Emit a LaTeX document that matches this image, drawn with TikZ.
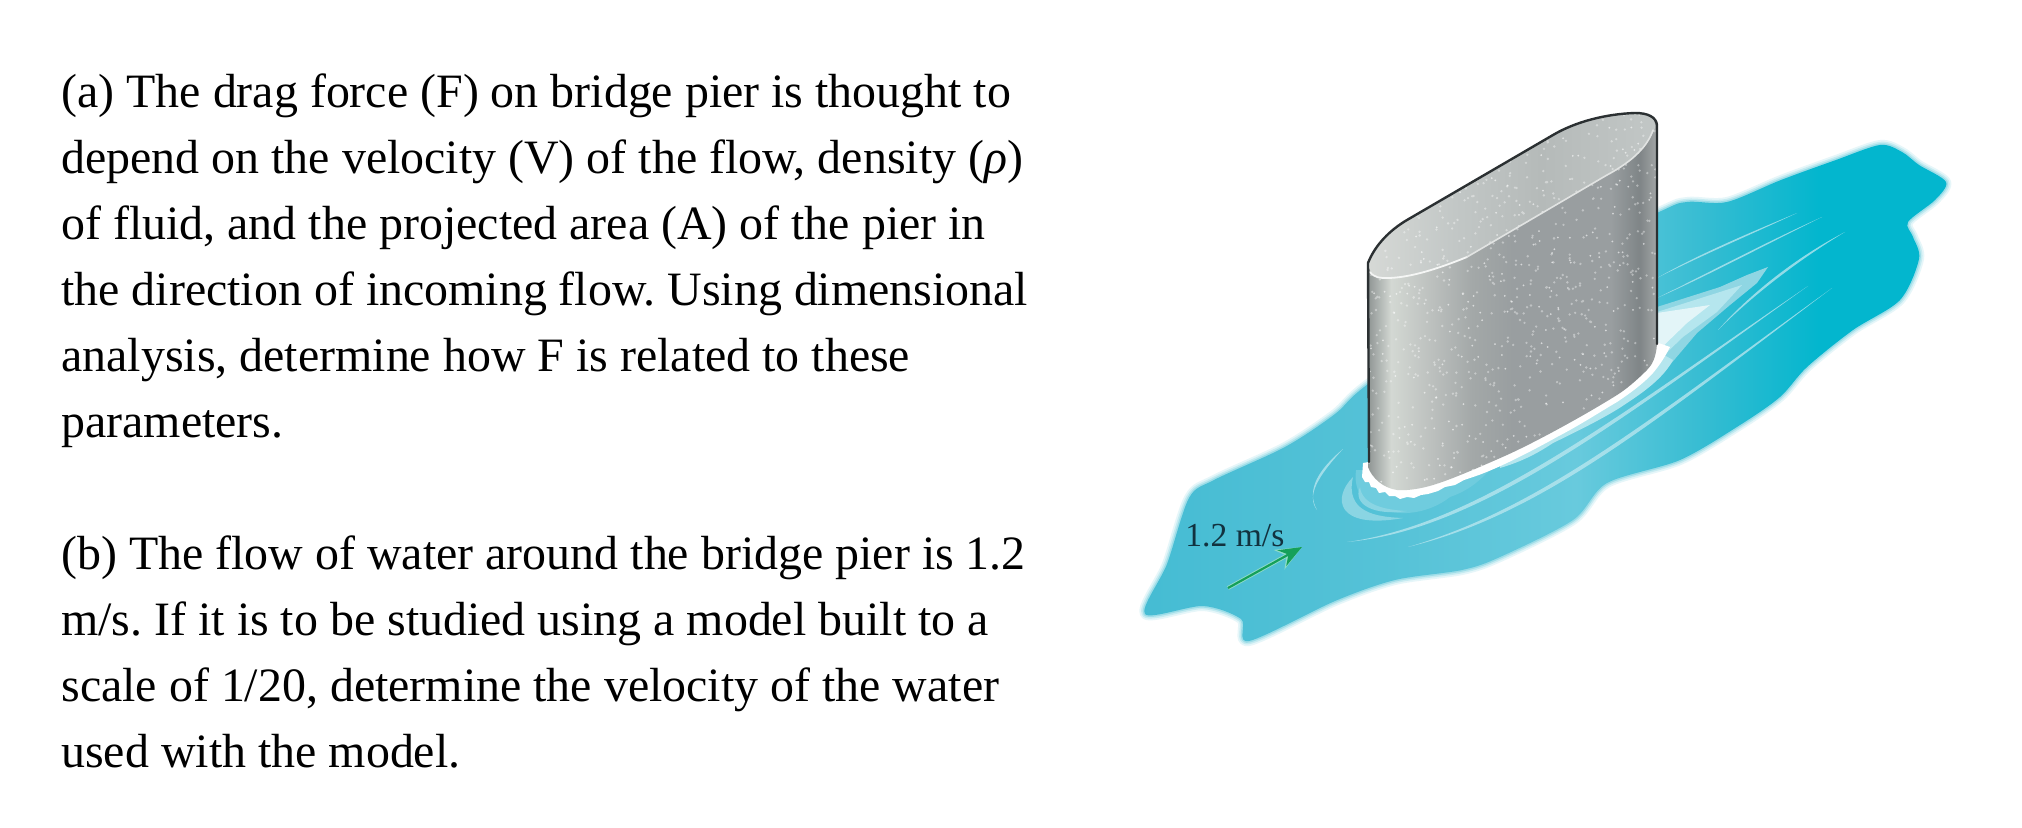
\documentclass[tikz,border=0pt]{standalone}
\usepackage{fontspec}
\setmainfont{Liberation Serif}
\usetikzlibrary{arrows.meta}
\definecolor{wA}{HTML}{45BCD3}
\definecolor{wB}{HTML}{55C2D7}
\definecolor{wC}{HTML}{68CADD}
\definecolor{wD}{HTML}{35BCD2}
\definecolor{wE}{HTML}{03B6CE}
\definecolor{sA}{HTML}{8F9594}
\definecolor{sB}{HTML}{D3D8D3}
\definecolor{sC}{HTML}{BCC0BE}
\definecolor{sD}{HTML}{A3A8A8}
\definecolor{sE}{HTML}{999EA0}
\definecolor{sF}{HTML}{7F8587}
\definecolor{sG}{HTML}{A2A6A6}
\definecolor{tA}{HTML}{D6D9D6}
\definecolor{tB}{HTML}{B5BAB9}
\definecolor{tC}{HTML}{C2C7C6}
\definecolor{streakc}{HTML}{BDE8F0}
\definecolor{pierline}{HTML}{2B3032}
\definecolor{arrowgreen}{HTML}{15A05A}
\definecolor{arrowpale}{HTML}{8FDCC8}
\definecolor{speedtext}{HTML}{12323F}
\definecolor{eddyA}{HTML}{8AD5E3}
\definecolor{eddyB}{HTML}{6FCCDE}
\definecolor{wakeA}{HTML}{8FD6E3}
\definecolor{wakeB}{HTML}{B5E6EE}
\definecolor{wakeC}{HTML}{E3F5F8}
\pgfdeclarehorizontalshading{water}{100bp}{color(0bp)=(wA); color(25bp)=(wA); color(40bp)=(wB); color(52bp)=(wC); color(60bp)=(wD); color(67bp)=(wE); color(100bp)=(wE)}
\pgfdeclarehorizontalshading{pierside}{100bp}{color(0bp)=(sA); color(25bp)=(sA); color(29bp)=(sB); color(36bp)=(sC); color(43bp)=(sD); color(50bp)=(sE); color(67bp)=(sE); color(72bp)=(sF); color(75bp)=(sG); color(100bp)=(sG)}
\pgfdeclarehorizontalshading{piertop}{100bp}{color(0bp)=(tA); color(25bp)=(tA); color(40bp)=(tC); color(55bp)=(tB); color(75bp)=(tC); color(100bp)=(tC)}
\newcommand{\streak}[5]{\fill[streakfill] (#1) .. controls (#2) and (#3) .. (#4) .. controls ([yshift=#5]#3) and ([yshift=#5]#2) .. (#1);}
\tikzset{
  x=0.5pt,y=-0.5pt,
  streakfill/.style={fill=streakc,opacity=.75},
  bodytext/.style={anchor=north west,inner sep=0pt,align=left,font=\fontsize{23.95}{33}\selectfont\frenchspacing},
  speed/.style={anchor=base west,inner sep=0pt,text=speedtext,font=\fontsize{16.8}{20}\selectfont}
}
\def\waterpts{(1145,614)(1167,564)(1189,498)(1214,480)(1285,447)(1335,414)(1368,384)(1500,290)(1657,213)(1687,202)(1727,202)(1781,180)(1836,160)(1880,145)(1902,152)(1919,165)(1946,182)(1935,200)(1908,222)(1913,237)(1919,259)(1900,300)(1853,330)(1807,367)(1780,397)(1740,425)(1680,460)(1607,483)(1573,520)(1500,557)(1462,570)(1395,580)(1335,601)(1249,641)(1241,619)(1203,606)}
\begin{document}
\begin{tikzpicture}
\useasboundingbox (0,0) rectangle (2022,828);
\fill[white] (0,0) rectangle (2022,828);
% text
\node[bodytext] (parta) at (61,73) {(a) The drag force (F) on bridge pier is thought to\\
depend on the velocity (V) of the flow, density (\textit{ρ})\\
of fluid, and the projected area (A) of the pier in\\
the direction of incoming flow. Using dimensional\\
analysis, determine how F is related to these\\
parameters.};
\node[bodytext] (partb) at (61,535) {(b) The flow of water around the bridge pier is 1.2\\
m/s. If it is to be studied using a model built to a\\
scale of 1/20, determine the velocity of the water\\
used with the model.};
% water: soft edge, then body
\foreach \w/\o in {5/.12,3.2/.18,1.6/.28}
  \draw[wD,line width=\w pt,opacity=\o,line join=round] plot[smooth cycle,tension=.5] coordinates {\waterpts};
\shade[shading=water] plot[smooth cycle,tension=.5] coordinates {\waterpts};
% wake behind the pier
\fill[wakeA] (1657,307) -- (1720,287) -- (1747,275) -- (1768,267) -- (1757,283) -- (1730,305) -- (1697,333) -- (1663,373) -- (1633,397) -- cycle;
\fill[wakeB] (1657,312) -- (1742,285) -- (1717,312) -- (1683,337) -- (1657,362) -- cycle;
\fill[wakeC] (1657,313) -- (1710,305) -- (1687,323) -- (1657,352) -- cycle;
% streaks
\streak{1657,278}{1700,256}{1750,235}{1797,213}{1.2pt}
\streak{1657,298}{1705,277}{1765,245}{1822,217}{1.2pt}
\streak{1718,330}{1750,298}{1795,262}{1845,232}{2pt}
\streak{1347,542}{1480,530}{1620,420}{1808,286}{3pt}
\streak{1408,547}{1540,515}{1650,425}{1832,288}{3pt}
\streak{1343,449}{1318,470}{1306,490}{1317,510}{-3pt}
% eddies around the upstream end
\fill[eddyB] (1356,470) .. controls (1352,500) and (1375,514) .. (1407,513) .. controls (1425,512) and (1440,505) .. (1450,497) .. controls (1470,490) and (1480,480) .. (1490,470) -- cycle;
\fill[eddyA] (1353,477) .. controls (1332,498) and (1336,530) .. (1403,518) .. controls (1375,517) and (1345,512) .. (1353,477) -- cycle;
\fill[eddyA] (1360,487) .. controls (1352,505) and (1375,516) .. (1407,511) .. controls (1385,510) and (1362,505) .. (1360,487) -- cycle;
% pier shapes
\def\pierbody{(1368,263) .. controls (1375,245) and (1390,230) .. (1407,220) -- (1553,135) .. controls (1575,122) and (1605,114) .. (1635,113) .. controls (1648,113) and (1656,117) .. (1657,125) -- (1657,344) .. controls (1656,358) and (1652,365) .. (1647,370) .. controls (1635,382) and (1625,390) .. (1617,395) .. controls (1590,412) and (1540,440) .. (1507,455) .. controls (1480,467) and (1450,480) .. (1433,485) .. controls (1420,489) and (1405,491) .. (1397,490) .. controls (1383,488) and (1372,478) .. (1368,467) -- cycle}
\def\piertopface{(1368,263) .. controls (1375,245) and (1390,230) .. (1407,220) -- (1553,135) .. controls (1575,122) and (1605,114) .. (1635,113) .. controls (1648,113) and (1656,117) .. (1655,128) .. controls (1648,145) and (1635,160) .. (1607,175) -- (1467,257) .. controls (1440,268) and (1410,278) .. (1387,278) .. controls (1375,278) and (1368,272) .. (1368,263) -- cycle}
% pale band and white foam along the waterline
\fill[wakeB] (1500,462) -- (1500,468) .. controls (1520,462) and (1535,455) .. (1553,443) .. controls (1580,430) and (1610,415) .. (1627,403) .. controls (1650,388) and (1665,375) .. (1673,360) -- (1655,350) -- cycle;
\fill[white] (1363,463) -- (1362,477) -- (1365,482) -- (1369,482) -- (1371,487) -- (1376,488) -- (1379,493) -- (1385,492) -- (1389,496) -- (1395,496) -- (1400,499) -- (1407,497) -- (1414,498) -- (1421,495) -- (1428,494) -- (1438,491) -- (1445,487) -- (1455,485) -- (1464,480) -- (1473,477) .. controls (1495,470) and (1530,452) .. (1557,437) .. controls (1580,425) and (1600,412) .. (1617,402) .. controls (1635,390) and (1650,378) .. (1657,368) .. controls (1663,360) and (1667,353) .. (1670,347) -- (1650,340) -- (1500,440) -- (1380,460) -- cycle;
% pier
\shade[shading=pierside] \pierbody;
\shade[shading=piertop] \piertopface;
\begin{scope}
\clip \pierbody;
\pgfmathsetseed{11}
\fill[white,opacity=.38] \foreach \i in {1,...,750} { ({1369+288*rnd},{113+384*rnd}) circle (.65pt) };
\fill[white,opacity=.6] \foreach \i in {1,...,220} { ({1369+288*rnd},{113+384*rnd}) circle (.5pt) };
\end{scope}
% top face rim
\draw[white!85!sC,line width=.9pt,line cap=round] (1370,272) .. controls (1375,278) and (1380,278) .. (1387,278) .. controls (1410,278) and (1440,268) .. (1467,257);
\draw[white!55!sC,line width=.8pt,line cap=round] (1467,257) -- (1607,175) .. controls (1635,160) and (1648,145) .. (1653,130);
% outline
\draw[pierline,line width=1.2pt,line join=round,line cap=round] (1369,462) -- (1368,263) .. controls (1375,245) and (1390,230) .. (1407,220) -- (1553,135) .. controls (1575,122) and (1605,114) .. (1635,113) .. controls (1648,113) and (1656,117) .. (1657,125) -- (1657,344);
% label and arrow
\node[speed] (speedlabel) at (1185,546) {1.2 m/s};
\coordinate (arrowtail) at (1228,588);
\coordinate (arrowtip) at (1302,547);
\draw[arrowpale,line width=2pt,-{Stealth[length=13pt,width=11pt]}] (arrowtail) -- (arrowtip);
\draw[arrowgreen,line width=1.1pt,-{Stealth[length=11.5pt,width=9pt]}] (arrowtail) -- (arrowtip);
\end{tikzpicture}
\end{document}
